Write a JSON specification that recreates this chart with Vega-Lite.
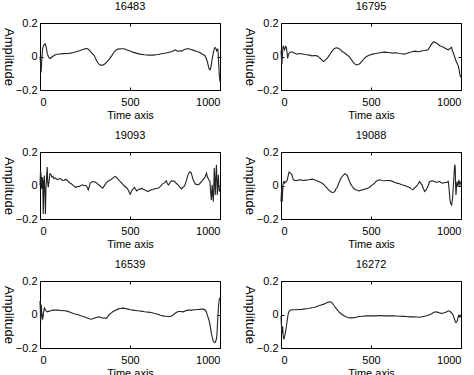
{
"$schema": "https://vega.github.io/schema/vega-lite/v6.json",
"background": "white",
"padding": {"left": 0, "top": 0, "right": 0, "bottom": 0},
"config": {
  "font": "Liberation Sans",
  "view": {"stroke": "black", "strokeWidth": 1},
  "axis": {"grid": false, "domainColor": "black", "tickColor": "black", "labelColor": "black", "titleColor": "black", "labelFontSize": 11, "titleFontWeight": "normal", "tickSize": -3},
  "header": {"labelFontSize": 11, "labelColor": "black"}
},
"data": {"values": [
{"s":"16483","t":0,"a":0.0},{"s":"16483","t":3,"a":-0.04},{"s":"16483","t":6,"a":-0.095},{"s":"16483","t":10,"a":-0.02},{"s":"16483","t":15,"a":0.05},{"s":"16483","t":22,"a":0.07},{"s":"16483","t":28,"a":0.075},{"s":"16483","t":34,"a":0.06},{"s":"16483","t":40,"a":0.02},{"s":"16483","t":48,"a":-0.005},{"s":"16483","t":58,"a":-0.012},{"s":"16483","t":70,"a":0.0},{"s":"16483","t":88,"a":0.012},{"s":"16483","t":110,"a":0.015},{"s":"16483","t":130,"a":0.017},{"s":"16483","t":150,"a":0.018},{"s":"16483","t":171,"a":0.02},{"s":"16483","t":190,"a":0.025},{"s":"16483","t":205,"a":0.03},{"s":"16483","t":218,"a":0.034},{"s":"16483","t":235,"a":0.04},{"s":"16483","t":255,"a":0.048},{"s":"16483","t":265,"a":0.046},{"s":"16483","t":274,"a":0.038},{"s":"16483","t":288,"a":0.02},{"s":"16483","t":302,"a":0.004},{"s":"16483","t":312,"a":-0.02},{"s":"16483","t":320,"a":-0.036},{"s":"16483","t":330,"a":-0.048},{"s":"16483","t":339,"a":-0.053},{"s":"16483","t":350,"a":-0.05},{"s":"16483","t":358,"a":-0.046},{"s":"16483","t":372,"a":-0.032},{"s":"16483","t":385,"a":-0.016},{"s":"16483","t":398,"a":0.004},{"s":"16483","t":410,"a":0.024},{"s":"16483","t":420,"a":0.036},{"s":"16483","t":432,"a":0.044},{"s":"16483","t":450,"a":0.046},{"s":"16483","t":466,"a":0.046},{"s":"16483","t":480,"a":0.04},{"s":"16483","t":497,"a":0.034},{"s":"16483","t":515,"a":0.026},{"s":"16483","t":534,"a":0.02},{"s":"16483","t":555,"a":0.014},{"s":"16483","t":581,"a":0.01},{"s":"16483","t":605,"a":0.008},{"s":"16483","t":628,"a":0.008},{"s":"16483","t":655,"a":0.012},{"s":"16483","t":683,"a":0.018},{"s":"16483","t":705,"a":0.022},{"s":"16483","t":730,"a":0.028},{"s":"16483","t":745,"a":0.036},{"s":"16483","t":752,"a":0.04},{"s":"16483","t":760,"a":0.034},{"s":"16483","t":767,"a":0.03},{"s":"16483","t":776,"a":0.034},{"s":"16483","t":786,"a":0.032},{"s":"16483","t":800,"a":0.04},{"s":"16483","t":819,"a":0.048},{"s":"16483","t":835,"a":0.043},{"s":"16483","t":851,"a":0.038},{"s":"16483","t":870,"a":0.03},{"s":"16483","t":888,"a":0.024},{"s":"16483","t":905,"a":0.012},{"s":"16483","t":916,"a":0.006},{"s":"16483","t":925,"a":-0.015},{"s":"16483","t":931,"a":-0.036},{"s":"16483","t":936,"a":-0.06},{"s":"16483","t":940,"a":-0.076},{"s":"16483","t":945,"a":-0.08},{"s":"16483","t":950,"a":-0.06},{"s":"16483","t":956,"a":-0.02},{"s":"16483","t":963,"a":0.024},{"s":"16483","t":968,"a":0.045},{"s":"16483","t":972,"a":0.054},{"s":"16483","t":977,"a":0.048},{"s":"16483","t":981,"a":0.034},{"s":"16483","t":985,"a":0.042},{"s":"16483","t":988,"a":0.044},{"s":"16483","t":991,"a":0.0},{"s":"16483","t":993,"a":-0.05},{"s":"16483","t":996,"a":-0.11},{"s":"16483","t":1000,"a":-0.15},
{"s":"16795","t":0,"a":0.034},{"s":"16795","t":3,"a":-0.02},{"s":"16795","t":5,"a":-0.046},{"s":"16795","t":8,"a":0.01},{"s":"16795","t":12,"a":0.064},{"s":"16795","t":16,"a":0.05},{"s":"16795","t":20,"a":0.04},{"s":"16795","t":25,"a":0.06},{"s":"16795","t":30,"a":0.054},{"s":"16795","t":34,"a":0.02},{"s":"16795","t":37,"a":-0.012},{"s":"16795","t":41,"a":0.01},{"s":"16795","t":45,"a":0.02},{"s":"16795","t":52,"a":0.025},{"s":"16795","t":60,"a":0.028},{"s":"16795","t":70,"a":0.022},{"s":"16795","t":80,"a":0.018},{"s":"16795","t":88,"a":0.014},{"s":"16795","t":100,"a":0.018},{"s":"16795","t":116,"a":0.016},{"s":"16795","t":130,"a":0.012},{"s":"16795","t":144,"a":0.01},{"s":"16795","t":158,"a":0.008},{"s":"16795","t":172,"a":0.004},{"s":"16795","t":186,"a":0.006},{"s":"16795","t":200,"a":0.004},{"s":"16795","t":210,"a":-0.004},{"s":"16795","t":219,"a":-0.012},{"s":"16795","t":228,"a":-0.022},{"s":"16795","t":237,"a":-0.03},{"s":"16795","t":246,"a":-0.022},{"s":"16795","t":256,"a":-0.012},{"s":"16795","t":265,"a":0.002},{"s":"16795","t":275,"a":0.018},{"s":"16795","t":284,"a":0.032},{"s":"16795","t":293,"a":0.044},{"s":"16795","t":302,"a":0.05},{"s":"16795","t":312,"a":0.052},{"s":"16795","t":321,"a":0.048},{"s":"16795","t":331,"a":0.04},{"s":"16795","t":340,"a":0.03},{"s":"16795","t":350,"a":0.024},{"s":"16795","t":364,"a":0.012},{"s":"16795","t":378,"a":0.0},{"s":"16795","t":389,"a":-0.016},{"s":"16795","t":400,"a":-0.032},{"s":"16795","t":410,"a":-0.044},{"s":"16795","t":419,"a":-0.05},{"s":"16795","t":430,"a":-0.048},{"s":"16795","t":439,"a":-0.042},{"s":"16795","t":450,"a":-0.028},{"s":"16795","t":462,"a":-0.012},{"s":"16795","t":475,"a":0.0},{"s":"16795","t":490,"a":0.008},{"s":"16795","t":508,"a":0.014},{"s":"16795","t":527,"a":0.018},{"s":"16795","t":550,"a":0.022},{"s":"16795","t":574,"a":0.026},{"s":"16795","t":597,"a":0.024},{"s":"16795","t":620,"a":0.02},{"s":"16795","t":640,"a":0.022},{"s":"16795","t":658,"a":0.018},{"s":"16795","t":672,"a":0.016},{"s":"16795","t":686,"a":0.014},{"s":"16795","t":700,"a":0.02},{"s":"16795","t":714,"a":0.024},{"s":"16795","t":728,"a":0.028},{"s":"16795","t":742,"a":0.032},{"s":"16795","t":756,"a":0.03},{"s":"16795","t":770,"a":0.028},{"s":"16795","t":784,"a":0.034},{"s":"16795","t":798,"a":0.036},{"s":"16795","t":808,"a":0.038},{"s":"16795","t":817,"a":0.04},{"s":"16795","t":826,"a":0.056},{"s":"16795","t":836,"a":0.074},{"s":"16795","t":843,"a":0.082},{"s":"16795","t":850,"a":0.088},{"s":"16795","t":858,"a":0.084},{"s":"16795","t":867,"a":0.078},{"s":"16795","t":875,"a":0.07},{"s":"16795","t":882,"a":0.064},{"s":"16795","t":893,"a":0.06},{"s":"16795","t":905,"a":0.054},{"s":"16795","t":917,"a":0.046},{"s":"16795","t":929,"a":0.04},{"s":"16795","t":938,"a":0.048},{"s":"16795","t":948,"a":0.054},{"s":"16795","t":953,"a":0.03},{"s":"16795","t":957,"a":0.024},{"s":"16795","t":964,"a":0.0},{"s":"16795","t":972,"a":-0.026},{"s":"16795","t":978,"a":-0.04},{"s":"16795","t":985,"a":-0.056},{"s":"16795","t":990,"a":-0.08},{"s":"16795","t":994,"a":-0.11},{"s":"16795","t":1000,"a":-0.125},
{"s":"19093","t":0,"a":0.0},{"s":"19093","t":3,"a":0.09},{"s":"19093","t":6,"a":0.06},{"s":"19093","t":9,"a":-0.02},{"s":"19093","t":12,"a":0.05},{"s":"19093","t":15,"a":0.03},{"s":"19093","t":18,"a":-0.17},{"s":"19093","t":21,"a":0.02},{"s":"19093","t":24,"a":0.06},{"s":"19093","t":27,"a":-0.05},{"s":"19093","t":30,"a":-0.17},{"s":"19093","t":33,"a":-0.02},{"s":"19093","t":36,"a":0.04},{"s":"19093","t":40,"a":0.11},{"s":"19093","t":43,"a":0.02},{"s":"19093","t":46,"a":-0.01},{"s":"19093","t":50,"a":0.02},{"s":"19093","t":55,"a":0.07},{"s":"19093","t":60,"a":0.068},{"s":"19093","t":66,"a":0.05},{"s":"19093","t":72,"a":0.055},{"s":"19093","t":78,"a":0.04},{"s":"19093","t":86,"a":0.045},{"s":"19093","t":97,"a":0.034},{"s":"19093","t":106,"a":0.04},{"s":"19093","t":115,"a":0.04},{"s":"19093","t":124,"a":0.03},{"s":"19093","t":134,"a":0.03},{"s":"19093","t":141,"a":0.036},{"s":"19093","t":149,"a":0.034},{"s":"19093","t":156,"a":0.025},{"s":"19093","t":162,"a":0.018},{"s":"19093","t":172,"a":0.012},{"s":"19093","t":181,"a":0.004},{"s":"19093","t":190,"a":-0.004},{"s":"19093","t":199,"a":-0.012},{"s":"19093","t":208,"a":-0.006},{"s":"19093","t":218,"a":-0.006},{"s":"19093","t":227,"a":0.0},{"s":"19093","t":236,"a":0.004},{"s":"19093","t":245,"a":0.0},{"s":"19093","t":255,"a":0.0},{"s":"19093","t":262,"a":-0.01},{"s":"19093","t":268,"a":-0.026},{"s":"19093","t":273,"a":-0.008},{"s":"19093","t":279,"a":0.014},{"s":"19093","t":286,"a":0.02},{"s":"19093","t":292,"a":0.024},{"s":"19093","t":302,"a":0.022},{"s":"19093","t":311,"a":0.018},{"s":"19093","t":320,"a":0.01},{"s":"19093","t":330,"a":0.0},{"s":"19093","t":340,"a":-0.008},{"s":"19093","t":348,"a":-0.016},{"s":"19093","t":356,"a":-0.004},{"s":"19093","t":367,"a":0.014},{"s":"19093","t":376,"a":0.024},{"s":"19093","t":385,"a":0.03},{"s":"19093","t":395,"a":0.036},{"s":"19093","t":404,"a":0.044},{"s":"19093","t":411,"a":0.05},{"s":"19093","t":417,"a":0.054},{"s":"19093","t":424,"a":0.05},{"s":"19093","t":432,"a":0.04},{"s":"19093","t":442,"a":0.028},{"s":"19093","t":451,"a":0.018},{"s":"19093","t":458,"a":0.01},{"s":"19093","t":466,"a":0.0},{"s":"19093","t":472,"a":-0.006},{"s":"19093","t":479,"a":-0.012},{"s":"19093","t":486,"a":-0.02},{"s":"19093","t":492,"a":-0.032},{"s":"19093","t":496,"a":-0.042},{"s":"19093","t":501,"a":-0.052},{"s":"19093","t":506,"a":-0.04},{"s":"19093","t":512,"a":-0.026},{"s":"19093","t":518,"a":-0.02},{"s":"19093","t":525,"a":-0.012},{"s":"19093","t":531,"a":-0.022},{"s":"19093","t":538,"a":-0.032},{"s":"19093","t":545,"a":-0.026},{"s":"19093","t":553,"a":-0.02},{"s":"19093","t":560,"a":-0.022},{"s":"19093","t":566,"a":-0.016},{"s":"19093","t":573,"a":-0.022},{"s":"19093","t":581,"a":-0.026},{"s":"19093","t":590,"a":-0.032},{"s":"19093","t":600,"a":-0.036},{"s":"19093","t":609,"a":-0.03},{"s":"19093","t":618,"a":-0.026},{"s":"19093","t":627,"a":-0.024},{"s":"19093","t":637,"a":-0.02},{"s":"19093","t":646,"a":-0.018},{"s":"19093","t":655,"a":-0.016},{"s":"19093","t":664,"a":-0.01},{"s":"19093","t":674,"a":0.0},{"s":"19093","t":681,"a":0.01},{"s":"19093","t":689,"a":0.014},{"s":"19093","t":695,"a":0.02},{"s":"19093","t":702,"a":0.028},{"s":"19093","t":708,"a":0.01},{"s":"19093","t":715,"a":0.004},{"s":"19093","t":722,"a":0.018},{"s":"19093","t":730,"a":0.028},{"s":"19093","t":740,"a":0.026},{"s":"19093","t":749,"a":0.024},{"s":"19093","t":758,"a":0.012},{"s":"19093","t":767,"a":0.004},{"s":"19093","t":776,"a":-0.008},{"s":"19093","t":786,"a":-0.02},{"s":"19093","t":793,"a":-0.012},{"s":"19093","t":801,"a":-0.006},{"s":"19093","t":808,"a":0.01},{"s":"19093","t":814,"a":0.034},{"s":"19093","t":820,"a":0.056},{"s":"19093","t":827,"a":0.074},{"s":"19093","t":832,"a":0.08},{"s":"19093","t":838,"a":0.08},{"s":"19093","t":844,"a":0.06},{"s":"19093","t":851,"a":0.034},{"s":"19093","t":858,"a":0.018},{"s":"19093","t":864,"a":0.008},{"s":"19093","t":872,"a":0.006},{"s":"19093","t":879,"a":0.004},{"s":"19093","t":888,"a":0.012},{"s":"19093","t":898,"a":0.024},{"s":"19093","t":907,"a":0.036},{"s":"19093","t":916,"a":0.048},{"s":"19093","t":921,"a":0.062},{"s":"19093","t":925,"a":0.074},{"s":"19093","t":930,"a":0.05},{"s":"19093","t":935,"a":0.04},{"s":"19093","t":940,"a":0.03},{"s":"19093","t":944,"a":0.024},{"s":"19093","t":948,"a":-0.04},{"s":"19093","t":952,"a":-0.086},{"s":"19093","t":955,"a":-0.02},{"s":"19093","t":957,"a":0.004},{"s":"19093","t":960,"a":-0.06},{"s":"19093","t":963,"a":-0.096},{"s":"19093","t":966,"a":0.0},{"s":"19093","t":968,"a":0.104},{"s":"19093","t":971,"a":0.03},{"s":"19093","t":974,"a":-0.056},{"s":"19093","t":977,"a":0.05},{"s":"19093","t":980,"a":0.124},{"s":"19093","t":983,"a":0.03},{"s":"19093","t":985,"a":-0.056},{"s":"19093","t":988,"a":0.0},{"s":"19093","t":991,"a":0.064},{"s":"19093","t":994,"a":-0.01},{"s":"19093","t":996,"a":-0.036},{"s":"19093","t":1000,"a":-0.016},
{"s":"19088","t":0,"a":-0.096},{"s":"19088","t":2,"a":-0.05},{"s":"19088","t":4,"a":-0.016},{"s":"19088","t":6,"a":-0.07},{"s":"19088","t":7,"a":-0.096},{"s":"19088","t":9,"a":-0.04},{"s":"19088","t":11,"a":0.004},{"s":"19088","t":14,"a":0.02},{"s":"19088","t":17,"a":0.024},{"s":"19088","t":20,"a":0.014},{"s":"19088","t":24,"a":0.02},{"s":"19088","t":30,"a":0.024},{"s":"19088","t":34,"a":0.03},{"s":"19088","t":37,"a":0.044},{"s":"19088","t":41,"a":0.064},{"s":"19088","t":45,"a":0.08},{"s":"19088","t":49,"a":0.078},{"s":"19088","t":52,"a":0.074},{"s":"19088","t":56,"a":0.07},{"s":"19088","t":60,"a":0.068},{"s":"19088","t":64,"a":0.05},{"s":"19088","t":69,"a":0.034},{"s":"19088","t":78,"a":0.03},{"s":"19088","t":88,"a":0.03},{"s":"19088","t":98,"a":0.032},{"s":"19088","t":107,"a":0.034},{"s":"19088","t":116,"a":0.032},{"s":"19088","t":125,"a":0.03},{"s":"19088","t":139,"a":0.032},{"s":"19088","t":153,"a":0.034},{"s":"19088","t":163,"a":0.036},{"s":"19088","t":172,"a":0.038},{"s":"19088","t":181,"a":0.036},{"s":"19088","t":191,"a":0.032},{"s":"19088","t":200,"a":0.028},{"s":"19088","t":209,"a":0.024},{"s":"19088","t":218,"a":0.02},{"s":"19088","t":228,"a":0.014},{"s":"19088","t":238,"a":0.006},{"s":"19088","t":247,"a":-0.006},{"s":"19088","t":256,"a":-0.016},{"s":"19088","t":265,"a":-0.026},{"s":"19088","t":275,"a":-0.036},{"s":"19088","t":284,"a":-0.042},{"s":"19088","t":292,"a":-0.04},{"s":"19088","t":299,"a":-0.036},{"s":"19088","t":305,"a":-0.02},{"s":"19088","t":312,"a":-0.012},{"s":"19088","t":318,"a":0.006},{"s":"19088","t":325,"a":0.024},{"s":"19088","t":332,"a":0.04},{"s":"19088","t":340,"a":0.054},{"s":"19088","t":348,"a":0.064},{"s":"19088","t":355,"a":0.07},{"s":"19088","t":361,"a":0.066},{"s":"19088","t":368,"a":0.06},{"s":"19088","t":375,"a":0.04},{"s":"19088","t":381,"a":0.024},{"s":"19088","t":388,"a":0.008},{"s":"19088","t":396,"a":-0.006},{"s":"19088","t":405,"a":-0.018},{"s":"19088","t":415,"a":-0.026},{"s":"19088","t":425,"a":-0.03},{"s":"19088","t":434,"a":-0.032},{"s":"19088","t":443,"a":-0.028},{"s":"19088","t":452,"a":-0.026},{"s":"19088","t":462,"a":-0.022},{"s":"19088","t":471,"a":-0.02},{"s":"19088","t":480,"a":-0.016},{"s":"19088","t":490,"a":-0.012},{"s":"19088","t":499,"a":-0.004},{"s":"19088","t":508,"a":0.004},{"s":"19088","t":518,"a":0.012},{"s":"19088","t":527,"a":0.024},{"s":"19088","t":536,"a":0.03},{"s":"19088","t":546,"a":0.034},{"s":"19088","t":560,"a":0.03},{"s":"19088","t":574,"a":0.028},{"s":"19088","t":588,"a":0.03},{"s":"19088","t":602,"a":0.03},{"s":"19088","t":616,"a":0.026},{"s":"19088","t":630,"a":0.02},{"s":"19088","t":644,"a":0.014},{"s":"19088","t":658,"a":0.01},{"s":"19088","t":672,"a":0.004},{"s":"19088","t":686,"a":0.0},{"s":"19088","t":700,"a":-0.006},{"s":"19088","t":714,"a":-0.012},{"s":"19088","t":724,"a":-0.02},{"s":"19088","t":733,"a":-0.026},{"s":"19088","t":742,"a":-0.014},{"s":"19088","t":751,"a":-0.006},{"s":"19088","t":760,"a":0.006},{"s":"19088","t":770,"a":0.024},{"s":"19088","t":776,"a":0.014},{"s":"19088","t":783,"a":0.004},{"s":"19088","t":790,"a":-0.016},{"s":"19088","t":798,"a":-0.036},{"s":"19088","t":805,"a":-0.028},{"s":"19088","t":811,"a":-0.016},{"s":"19088","t":818,"a":0.0},{"s":"19088","t":826,"a":0.024},{"s":"19088","t":835,"a":0.026},{"s":"19088","t":845,"a":0.028},{"s":"19088","t":855,"a":0.022},{"s":"19088","t":864,"a":0.018},{"s":"19088","t":873,"a":0.022},{"s":"19088","t":882,"a":0.024},{"s":"19088","t":891,"a":0.016},{"s":"19088","t":901,"a":0.014},{"s":"19088","t":910,"a":0.018},{"s":"19088","t":920,"a":0.018},{"s":"19088","t":929,"a":0.024},{"s":"19088","t":932,"a":0.0},{"s":"19088","t":935,"a":-0.036},{"s":"19088","t":938,"a":-0.08},{"s":"19088","t":942,"a":-0.106},{"s":"19088","t":948,"a":-0.116},{"s":"19088","t":953,"a":-0.076},{"s":"19088","t":956,"a":-0.03},{"s":"19088","t":959,"a":0.024},{"s":"19088","t":962,"a":0.07},{"s":"19088","t":964,"a":0.114},{"s":"19088","t":966,"a":0.124},{"s":"19088","t":968,"a":0.1},{"s":"19088","t":970,"a":0.0},{"s":"19088","t":972,"a":-0.056},{"s":"19088","t":975,"a":-0.01},{"s":"19088","t":978,"a":0.024},{"s":"19088","t":981,"a":0.0},{"s":"19088","t":983,"a":-0.006},{"s":"19088","t":986,"a":0.02},{"s":"19088","t":989,"a":0.034},{"s":"19088","t":992,"a":0.01},{"s":"19088","t":994,"a":0.004},{"s":"19088","t":997,"a":0.02},{"s":"19088","t":1000,"a":0.024},
{"s":"16539","t":0,"a":0.08},{"s":"16539","t":2,"a":0.02},{"s":"16539","t":4,"a":-0.04},{"s":"16539","t":6,"a":0.02},{"s":"16539","t":7,"a":0.06},{"s":"16539","t":9,"a":0.02},{"s":"16539","t":11,"a":0.002},{"s":"16539","t":13,"a":-0.02},{"s":"16539","t":15,"a":-0.03},{"s":"16539","t":18,"a":-0.005},{"s":"16539","t":20,"a":0.012},{"s":"16539","t":23,"a":0.036},{"s":"16539","t":26,"a":0.04},{"s":"16539","t":30,"a":0.025},{"s":"16539","t":34,"a":0.02},{"s":"16539","t":41,"a":0.016},{"s":"16539","t":50,"a":0.02},{"s":"16539","t":60,"a":0.022},{"s":"16539","t":69,"a":0.026},{"s":"16539","t":83,"a":0.026},{"s":"16539","t":97,"a":0.026},{"s":"16539","t":115,"a":0.024},{"s":"16539","t":134,"a":0.022},{"s":"16539","t":152,"a":0.02},{"s":"16539","t":171,"a":0.012},{"s":"16539","t":185,"a":0.006},{"s":"16539","t":199,"a":0.002},{"s":"16539","t":213,"a":-0.002},{"s":"16539","t":227,"a":-0.008},{"s":"16539","t":241,"a":-0.012},{"s":"16539","t":255,"a":-0.018},{"s":"16539","t":269,"a":-0.024},{"s":"16539","t":283,"a":-0.028},{"s":"16539","t":297,"a":-0.024},{"s":"16539","t":311,"a":-0.018},{"s":"16539","t":320,"a":-0.016},{"s":"16539","t":330,"a":-0.014},{"s":"16539","t":339,"a":-0.018},{"s":"16539","t":348,"a":-0.022},{"s":"16539","t":357,"a":-0.02},{"s":"16539","t":367,"a":-0.024},{"s":"16539","t":376,"a":-0.014},{"s":"16539","t":385,"a":0.0},{"s":"16539","t":395,"a":0.008},{"s":"16539","t":404,"a":0.016},{"s":"16539","t":418,"a":0.024},{"s":"16539","t":432,"a":0.032},{"s":"16539","t":446,"a":0.036},{"s":"16539","t":460,"a":0.038},{"s":"16539","t":474,"a":0.036},{"s":"16539","t":488,"a":0.032},{"s":"16539","t":502,"a":0.028},{"s":"16539","t":516,"a":0.026},{"s":"16539","t":530,"a":0.024},{"s":"16539","t":544,"a":0.022},{"s":"16539","t":562,"a":0.02},{"s":"16539","t":581,"a":0.016},{"s":"16539","t":600,"a":0.014},{"s":"16539","t":618,"a":0.012},{"s":"16539","t":637,"a":0.006},{"s":"16539","t":655,"a":0.002},{"s":"16539","t":669,"a":-0.004},{"s":"16539","t":683,"a":-0.008},{"s":"16539","t":697,"a":-0.01},{"s":"16539","t":711,"a":-0.012},{"s":"16539","t":723,"a":-0.012},{"s":"16539","t":734,"a":-0.008},{"s":"16539","t":742,"a":0.0},{"s":"16539","t":749,"a":0.006},{"s":"16539","t":758,"a":0.012},{"s":"16539","t":767,"a":0.018},{"s":"16539","t":781,"a":0.018},{"s":"16539","t":795,"a":0.016},{"s":"16539","t":809,"a":0.022},{"s":"16539","t":823,"a":0.026},{"s":"16539","t":841,"a":0.026},{"s":"16539","t":860,"a":0.028},{"s":"16539","t":879,"a":0.03},{"s":"16539","t":898,"a":0.032},{"s":"16539","t":907,"a":0.032},{"s":"16539","t":916,"a":0.028},{"s":"16539","t":924,"a":0.016},{"s":"16539","t":931,"a":-0.008},{"s":"16539","t":938,"a":-0.03},{"s":"16539","t":944,"a":-0.058},{"s":"16539","t":949,"a":-0.09},{"s":"16539","t":953,"a":-0.118},{"s":"16539","t":958,"a":-0.14},{"s":"16539","t":963,"a":-0.158},{"s":"16539","t":968,"a":-0.166},{"s":"16539","t":972,"a":-0.168},{"s":"16539","t":976,"a":-0.16},{"s":"16539","t":980,"a":-0.146},{"s":"16539","t":983,"a":-0.12},{"s":"16539","t":985,"a":-0.078},{"s":"16539","t":988,"a":-0.02},{"s":"16539","t":991,"a":0.042},{"s":"16539","t":994,"a":0.07},{"s":"16539","t":996,"a":0.092},{"s":"16539","t":1000,"a":0.1},
{"s":"16272","t":0,"a":-0.008},{"s":"16272","t":2,"a":-0.06},{"s":"16272","t":4,"a":-0.098},{"s":"16272","t":7,"a":-0.11},{"s":"16272","t":9,"a":-0.07},{"s":"16272","t":12,"a":-0.12},{"s":"16272","t":15,"a":-0.148},{"s":"16272","t":18,"a":-0.14},{"s":"16272","t":21,"a":-0.128},{"s":"16272","t":24,"a":-0.11},{"s":"16272","t":26,"a":-0.098},{"s":"16272","t":30,"a":-0.07},{"s":"16272","t":34,"a":-0.038},{"s":"16272","t":38,"a":-0.01},{"s":"16272","t":41,"a":0.008},{"s":"16272","t":46,"a":0.02},{"s":"16272","t":51,"a":0.026},{"s":"16272","t":60,"a":0.028},{"s":"16272","t":69,"a":0.028},{"s":"16272","t":84,"a":0.028},{"s":"16272","t":98,"a":0.03},{"s":"16272","t":112,"a":0.03},{"s":"16272","t":126,"a":0.032},{"s":"16272","t":140,"a":0.034},{"s":"16272","t":154,"a":0.036},{"s":"16272","t":168,"a":0.04},{"s":"16272","t":182,"a":0.042},{"s":"16272","t":196,"a":0.046},{"s":"16272","t":210,"a":0.052},{"s":"16272","t":224,"a":0.057},{"s":"16272","t":238,"a":0.062},{"s":"16272","t":248,"a":0.067},{"s":"16272","t":257,"a":0.072},{"s":"16272","t":264,"a":0.074},{"s":"16272","t":270,"a":0.076},{"s":"16272","t":276,"a":0.075},{"s":"16272","t":281,"a":0.072},{"s":"16272","t":288,"a":0.064},{"s":"16272","t":295,"a":0.052},{"s":"16272","t":304,"a":0.04},{"s":"16272","t":313,"a":0.028},{"s":"16272","t":322,"a":0.016},{"s":"16272","t":332,"a":0.006},{"s":"16272","t":341,"a":-0.002},{"s":"16272","t":351,"a":-0.008},{"s":"16272","t":360,"a":-0.014},{"s":"16272","t":370,"a":-0.018},{"s":"16272","t":384,"a":-0.02},{"s":"16272","t":398,"a":-0.02},{"s":"16272","t":416,"a":-0.016},{"s":"16272","t":435,"a":-0.012},{"s":"16272","t":454,"a":-0.01},{"s":"16272","t":473,"a":-0.008},{"s":"16272","t":491,"a":-0.008},{"s":"16272","t":510,"a":-0.008},{"s":"16272","t":529,"a":-0.008},{"s":"16272","t":548,"a":-0.006},{"s":"16272","t":566,"a":-0.008},{"s":"16272","t":585,"a":-0.008},{"s":"16272","t":604,"a":-0.008},{"s":"16272","t":623,"a":-0.008},{"s":"16272","t":641,"a":-0.009},{"s":"16272","t":660,"a":-0.01},{"s":"16272","t":679,"a":-0.011},{"s":"16272","t":698,"a":-0.012},{"s":"16272","t":716,"a":-0.014},{"s":"16272","t":735,"a":-0.014},{"s":"16272","t":754,"a":-0.015},{"s":"16272","t":773,"a":-0.016},{"s":"16272","t":791,"a":-0.012},{"s":"16272","t":810,"a":-0.008},{"s":"16272","t":825,"a":-0.002},{"s":"16272","t":839,"a":0.006},{"s":"16272","t":848,"a":0.012},{"s":"16272","t":857,"a":0.016},{"s":"16272","t":866,"a":0.014},{"s":"16272","t":876,"a":0.012},{"s":"16272","t":885,"a":0.008},{"s":"16272","t":895,"a":0.006},{"s":"16272","t":904,"a":0.01},{"s":"16272","t":914,"a":0.012},{"s":"16272","t":923,"a":0.018},{"s":"16272","t":932,"a":0.022},{"s":"16272","t":939,"a":0.018},{"s":"16272","t":946,"a":0.012},{"s":"16272","t":952,"a":0.004},{"s":"16272","t":957,"a":-0.004},{"s":"16272","t":961,"a":-0.02},{"s":"16272","t":964,"a":-0.028},{"s":"16272","t":968,"a":-0.04},{"s":"16272","t":972,"a":-0.048},{"s":"16272","t":976,"a":-0.044},{"s":"16272","t":979,"a":-0.038},{"s":"16272","t":983,"a":-0.02},{"s":"16272","t":987,"a":-0.006},{"s":"16272","t":991,"a":-0.01},{"s":"16272","t":994,"a":-0.016},{"s":"16272","t":997,"a":-0.008},{"s":"16272","t":1000,"a":-0.002}
]},
"facet": {"field": "s", "type": "nominal", "sort": ["16483","16795","19093","19088","16539","16272"], "header": {"title": null, "labelFontSize": 11, "labelPadding": 5}},
"columns": 2,
"spacing": {"row": 8, "column": 18},
"resolve": {"axis": {"x": "independent", "y": "independent"}},
"spec": {
  "width": 180,
  "height": 67,
  "layer": [
    {
      "mark": {"type": "line", "color": "#222222", "strokeWidth": 1.1},
      "encoding": {
        "x": {"field": "t", "type": "quantitative", "scale": {"domain": [0, 1000], "nice": false}, "axis": {"values": [0, 500, 1000], "format": "d", "labelPadding": 9, "title": "Time axis", "titleFontSize": 11, "titlePadding": 2}},
        "y": {"field": "a", "type": "quantitative", "scale": {"domain": [-0.2, 0.2], "nice": false}, "axis": {"values": [-0.2, 0, 0.2], "format": ".1~f", "labelPadding": 6, "title": "Amplitude", "titleAngle": 90, "titleBaseline": "top", "titleFontSize": 13, "titlePadding": 1}}
      }
    },
    {
      "mark": {"type": "line", "opacity": 0},
      "encoding": {
        "x": {"field": "t", "type": "quantitative", "axis": {"orient": "top", "values": [0, 500, 1000], "labels": false, "title": null, "domain": false}},
        "y": {"field": "a", "type": "quantitative", "axis": {"orient": "right", "values": [-0.2, 0, 0.2], "labels": false, "title": null, "domain": false}}
      }
    }
  ],
  "resolve": {"axis": {"x": "independent", "y": "independent"}}
}
}
